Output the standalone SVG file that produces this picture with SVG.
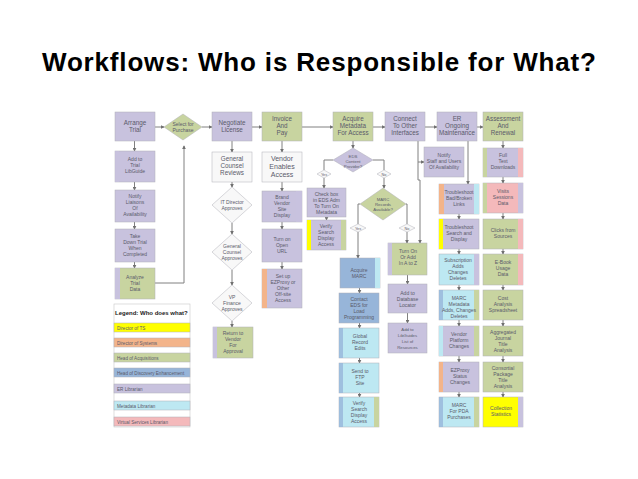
<svg xmlns="http://www.w3.org/2000/svg" width="638" height="479" viewBox="0 0 638 479">
<style>
text{font-family:"Liberation Sans",Arial,sans-serif;fill:#5a5a6a;text-anchor:middle;font-size:5px}
.h{font-size:6.3px}
.t{font-size:26px;font-weight:bold;fill:#000}
.b{stroke:#b0b0b8;stroke-width:0.5}
.pu{fill:#c8c2de}.gr{fill:#c8d4a0}.bl{fill:#97b5d9}.cy{fill:#bde8f2}.or{fill:#f3b48a}.ye{fill:#ffff00}.pk{fill:#f4b9bb}.wh{fill:#f8f8f8}
.c{fill:none;stroke:#808080;stroke-width:1}
.lg text{text-anchor:start;font-size:4.6px}
</style>
<defs><marker id="a" viewBox="0 0 6 6" refX="5" refY="3" markerWidth="4" markerHeight="4" orient="auto"><path d="M0,0L6,3L0,6z" fill="#707070"/></marker></defs>
<rect width="638" height="479" fill="#fff"/>
<text class="t" x="319" y="71" textLength="554">Workflows: Who is Responsible for What?</text>

<g id="connectors" marker-end="url(#a)">
<path class="c" d="M154 127H164"/><path class="c" d="M202 127H212"/><path class="c" d="M252 127H262"/><path class="c" d="M302 127H333"/><path class="c" d="M373 127H385"/><path class="c" d="M425 127H437"/><path class="c" d="M477 127H483"/>
<path class="c" d="M134.5 141V151"/><path class="c" d="M134.5 182V190"/><path class="c" d="M134.5 222V229"/><path class="c" d="M134.5 262V268"/>
<path class="c" d="M154 283H184V146"/>
<path class="c" d="M232 141V152"/><path class="c" d="M232 182V187"/><path class="c" d="M232 223V234"/><path class="c" d="M232 270V285"/><path class="c" d="M232 321V327"/>
<path class="c" d="M282 141V152"/><path class="c" d="M282 182V191"/><path class="c" d="M282 222V229"/><path class="c" d="M282 262V269"/>
<path class="c" d="M353 141V148"/>
<path class="c" d="M333 160H324V170" marker-end="none"/><path class="c" d="M324 178V188"/>
<path class="c" d="M373 160H384V170" marker-end="none"/><path class="c" d="M384 178V188"/>
<path class="c" d="M326.5 217V220"/>
<path class="c" d="M360 204H358V224" marker-end="none"/><path class="c" d="M358 232V258"/>
<path class="c" d="M406 204H407V224" marker-end="none"/><path class="c" d="M407 232V243"/>
<path class="c" d="M359.5 288V293"/><path class="c" d="M359.5 323V328"/><path class="c" d="M359.5 358V363"/><path class="c" d="M359.5 393V397"/>
<path class="c" d="M418 141V162H424"/><path class="c" d="M418 162V180H420V243"/>
<path class="c" d="M407.5 275V284"/><path class="c" d="M407.5 313V323"/>
<path class="c" d="M468 141V184"/>
<path class="c" d="M459 214V219"/><path class="c" d="M459 249V254"/><path class="c" d="M459 285V290"/><path class="c" d="M459 320V326"/><path class="c" d="M459 356V362"/><path class="c" d="M459 392V397"/>
<path class="c" d="M503 141V148"/><path class="c" d="M503 177V183"/><path class="c" d="M503 213V219"/><path class="c" d="M503 249V254"/><path class="c" d="M503 285V290"/><path class="c" d="M503 320V326"/><path class="c" d="M503 356V362"/><path class="c" d="M503 392V397"/>
</g>

<!-- headers -->
<g id="arrange"><rect class="pu b" x="115" y="112" width="40" height="29"/><text class="h" x="135" y="125">Arrange</text><text class="h" x="135" y="132">Trial</text></g>
<g id="select"><path class="gr b" d="M183 114L202 127L183 140L164 127z"/><text x="183" y="126">Select for</text><text x="183" y="132">Purchase</text></g>
<g id="negotiate"><rect class="pu b" x="212" y="112" width="40" height="29"/><text class="h" x="232" y="125">Negotiate</text><text class="h" x="232" y="132">License</text></g>
<g id="invoice"><rect class="gr b" x="262" y="112" width="40" height="29"/><text class="h" x="282" y="121">Invoice</text><text class="h" x="282" y="128">And</text><text class="h" x="282" y="135">Pay</text></g>
<g id="acquire"><rect class="gr b" x="333" y="112" width="40" height="29"/><text class="h" x="353" y="121">Acquire</text><text class="h" x="353" y="128">Metadata</text><text class="h" x="353" y="135">For Access</text></g>
<g id="connect"><rect class="pu b" x="385" y="112" width="40" height="29"/><text class="h" x="405" y="121">Connect</text><text class="h" x="405" y="128">To Other</text><text class="h" x="405" y="135">Interfaces</text></g>
<g id="er"><rect class="pu b" x="437" y="112" width="40" height="29"/><text class="h" x="457" y="121">ER</text><text class="h" x="457" y="128">Ongoing</text><text class="h" x="457" y="135">Maintenance</text></g>
<g id="assess"><rect class="gr b" x="483" y="112" width="40" height="29"/><text class="h" x="503" y="121">Assessment</text><text class="h" x="503" y="128">And</text><text class="h" x="503" y="135">Renewal</text></g>

<!-- col 1 -->
<g id="libguide"><rect class="pu b" x="115" y="151" width="40" height="31"/><rect class="pu" x="115" y="151" width="4" height="31" opacity=".7"/><text x="135" y="161">Add to</text><text x="135" y="167">Trial</text><text x="135" y="173">LibGuide</text></g>
<g id="notify1"><rect class="pu b" x="115" y="190" width="40" height="32"/><text x="135" y="198">Notify</text><text x="135" y="204">Liaisons</text><text x="135" y="210">Of</text><text x="135" y="216">Availability</text></g>
<g id="takedown"><rect class="pu b" x="115" y="229" width="40" height="33"/><text x="135" y="238">Take</text><text x="135" y="244">Down Trial</text><text x="135" y="250">When</text><text x="135" y="256">Completed</text></g>
<g id="analyze"><rect class="gr b" x="115" y="268" width="40" height="31"/><rect class="pu" x="115" y="268" width="5" height="31"/><text x="135" y="279">Analyze</text><text x="135" y="285">Trial</text><text x="135" y="291">Data</text></g>

<!-- legend -->
<g id="legend" class="lg">
<rect x="114" y="304" width="76" height="123" fill="#fff" stroke="#c8c8c8" stroke-width="0.6"/>
<text x="115" y="315" style="font-weight:bold;font-size:6px;fill:#222">Legend: Who does what?</text>
<rect class="ye b" x="114" y="323" width="76" height="9"/><text x="117" y="329.5">Director of TS</text>
<rect class="or b" x="114" y="338" width="76" height="9"/><text x="117" y="344.5">Director of Systems</text>
<rect class="gr b" x="114" y="353" width="76" height="9"/><text x="117" y="359.5">Head of Acquisitions</text>
<rect class="bl b" x="114" y="368" width="76" height="9"/><text x="117" y="374.5">Head of Discovery Enhancement</text>
<rect class="pu b" x="114" y="384" width="76" height="9"/><text x="117" y="390.5">ER Librarian</text>
<rect class="cy b" x="114" y="401" width="76" height="9"/><text x="117" y="407.5">Metadata Librarian</text>
<rect class="pk b" x="114" y="417" width="76" height="9"/><text x="117" y="423.5">Virtual Services Librarian</text>
</g>

<!-- negotiate column -->
<g id="gcreview"><rect class="wh b" x="212" y="152" width="40" height="30"/><text class="h" x="232" y="161">General</text><text class="h" x="232" y="168">Counsel</text><text class="h" x="232" y="175">Reviews</text></g>
<g id="itdir"><path class="wh b" d="M232 187L252 205L232 223L212 205z"/><text x="232" y="204">IT Director</text><text x="232" y="210">Approves</text></g>
<g id="gcapp"><path class="wh b" d="M232 234L252 252L232 270L212 252z"/><text x="232" y="248">General</text><text x="232" y="254">Counsel</text><text x="232" y="260">Approves</text></g>
<g id="vpfin"><path class="wh b" d="M232 285L252 303L232 321L212 303z"/><text x="232" y="299">VP</text><text x="232" y="305">Finance</text><text x="232" y="311">Approves</text></g>
<g id="return"><rect class="gr b" x="213" y="327" width="40" height="31"/><rect class="pu" x="213" y="327" width="4" height="31"/><text x="233" y="335">Return to</text><text x="233" y="341">Vendor</text><text x="233" y="347">For</text><text x="233" y="353">Approval</text></g>

<!-- invoice column -->
<g id="venable"><rect class="wh b" x="262" y="152" width="40" height="30"/><text class="h" x="282" y="161" style="font-size:7px">Vendor</text><text class="h" x="282" y="169" style="font-size:7px">Enables</text><text class="h" x="282" y="177" style="font-size:7px">Access</text></g>
<g id="brand"><rect class="pu b" x="262" y="191" width="40" height="31"/><rect class="pu" x="296" y="191" width="6" height="31" opacity=".8"/><text x="282" y="199">Brand</text><text x="282" y="205">Vendor</text><text x="282" y="211">Site</text><text x="282" y="217">Display</text></g>
<g id="openurl"><rect class="pu b" x="262" y="229" width="40" height="33"/><text x="282" y="241">Turn on</text><text x="282" y="247">Open</text><text x="282" y="253">URL</text></g>
<g id="ezproxy"><rect class="pu b" x="262" y="269" width="40" height="39"/><rect class="or" x="262" y="269" width="5" height="39"/><text x="283" y="278">Set up</text><text x="283" y="284">EZProxy or</text><text x="283" y="290">Other</text><text x="283" y="296">Off-site</text><text x="283" y="302">Access</text></g>

<!-- acquire metadata column -->
<g id="eds"><path class="pu b" d="M353 148L373 160L353 172L333 160z"/><text x="353" y="158" style="font-size:4.3px">EDS</text><text x="353" y="163" style="font-size:4.3px">Content</text><text x="353" y="168" style="font-size:4.3px">Provider?</text></g>
<g id="yes1"><path class="wh b" d="M324 170L331 174L324 178L317 174z"/><text x="324" y="175.5" style="font-size:3.8px">Yes</text></g>
<g id="no1"><path class="wh b" d="M384 170L391 174L384 178L377 174z"/><text x="384" y="175.5" style="font-size:3.8px">No</text></g>
<g id="checkbox"><rect class="pu b" x="307" y="188" width="39" height="29"/><text x="326.5" y="196">Check box</text><text x="326.5" y="202">in EDS Adm</text><text x="326.5" y="208">To Turn On</text><text x="326.5" y="214">Metadata</text></g>
<g id="verify1"><rect class="pu b" x="307" y="220" width="39" height="30"/><rect class="ye" x="307" y="220" width="4" height="30"/><rect class="gr" x="341" y="220" width="5" height="30"/><text x="326" y="228">Verify</text><text x="326" y="234">Search</text><text x="326" y="240">Display</text><text x="326" y="246">Access</text></g>
<g id="marcavail"><path class="gr b" d="M383 188L406 204L383 220L360 204z"/><text x="383" y="201" style="font-size:4.3px">MARC</text><text x="383" y="206" style="font-size:4.3px">Records</text><text x="383" y="211" style="font-size:4.3px">Available?</text></g>
<g id="yes2"><path class="wh b" d="M358 224L366 228L358 232L350 228z"/><text x="358" y="229.5" style="font-size:3.8px">Yes</text></g>
<g id="no2"><path class="wh b" d="M407 224L415 228L407 232L399 228z"/><text x="407" y="229.5" style="font-size:3.8px">No</text></g>
<g id="acqmarc"><rect class="bl b" x="340" y="258" width="40" height="30"/><rect class="cy" x="375" y="258" width="5" height="30"/><text x="359" y="272">Acquire</text><text x="359" y="278">MARC</text></g>
<g id="contact"><rect class="bl b" x="339" y="293" width="40" height="30"/><text x="359" y="301">Contact</text><text x="359" y="307">EDS for</text><text x="359" y="313">Load</text><text x="359" y="319">Programming</text></g>
<g id="global"><rect class="cy b" x="339" y="328" width="40" height="30"/><rect class="bl" x="339" y="328" width="4" height="30" opacity=".8"/><text x="360" y="338">Global</text><text x="360" y="344">Record</text><text x="360" y="350">Edits</text></g>
<g id="ftp"><rect class="cy b" x="339" y="363" width="40" height="30"/><rect class="bl" x="339" y="363" width="4" height="30" opacity=".8"/><text x="360" y="373">Send to</text><text x="360" y="379">FTP</text><text x="360" y="385">Site</text></g>
<g id="verify2"><rect class="cy b" x="339" y="397" width="40" height="30"/><rect class="bl" x="339" y="397" width="4" height="30" opacity=".8"/><rect class="gr" x="374" y="397" width="5" height="30"/><text x="359" y="405">Verify</text><text x="359" y="411">Search</text><text x="359" y="417">Display</text><text x="359" y="423">Access</text></g>

<!-- connect column -->
<g id="notify2"><rect class="pu b" x="424" y="147" width="40" height="30"/><text x="444" y="157">Notify</text><text x="444" y="163">Staff and Users</text><text x="444" y="169">Of Availability</text></g>
<g id="atoz"><rect class="gr b" x="388" y="243" width="39" height="32"/><rect class="pu" x="388" y="243" width="4" height="32"/><text x="408" y="253">Turn On</text><text x="408" y="259">Or Add</text><text x="408" y="265">In A to Z</text></g>
<g id="dbloc"><rect class="pu b" x="388" y="284" width="39" height="29"/><text x="407.5" y="295">Add to</text><text x="407.5" y="301">Database</text><text x="407.5" y="307">Locator</text></g>
<g id="unlist"><rect class="pu b" x="388" y="323" width="39" height="30"/><text x="407.5" y="331" style="font-size:4.3px">Add to</text><text x="407.5" y="337" style="font-size:4.3px">LibGuides</text><text x="407.5" y="343" style="font-size:4.3px">List of</text><text x="407.5" y="349" style="font-size:4.3px">Resources</text></g>

<!-- ER column -->
<g id="ts1"><rect class="pu b" x="439" y="184" width="40" height="30"/><rect class="or" x="439" y="184" width="5" height="30"/><rect class="cy" x="474" y="184" width="5" height="30"/><text x="459" y="194">Troubleshoot</text><text x="459" y="200">Bad/Broken</text><text x="459" y="206">Links</text></g>
<g id="ts2"><rect class="pu b" x="439" y="219" width="40" height="30"/><rect class="ye" x="439" y="219" width="4" height="30"/><text x="459" y="229">Troubleshoot</text><text x="459" y="235">Search and</text><text x="459" y="241">Display</text></g>
<g id="subs"><rect class="cy b" x="439" y="254" width="40" height="31"/><rect class="pu" x="474" y="254" width="5" height="31"/><text x="458" y="262">Subscription</text><text x="458" y="268">Adds</text><text x="458" y="274">Changes</text><text x="458" y="280">Deletes</text></g>
<g id="marcmeta"><rect class="cy b" x="439" y="290" width="40" height="30"/><rect class="bl" x="439" y="290" width="4" height="30" opacity=".8"/><rect class="gr" x="474" y="290" width="5" height="30"/><text x="459" y="300">MARC</text><text x="459" y="306">Metadata</text><text x="459" y="312">Adds, Changes</text><text x="459" y="318">Deletes</text></g>
<g id="vplat"><rect class="pu b" x="439" y="326" width="40" height="30"/><rect class="cy" x="439" y="326" width="4" height="30"/><rect class="gr" x="474" y="326" width="5" height="30"/><text x="459" y="336">Vendor</text><text x="459" y="342">Platform</text><text x="459" y="348">Changes</text></g>
<g id="ezstat"><rect class="pu b" x="439" y="362" width="40" height="30"/><rect class="or" x="439" y="362" width="4" height="30"/><text x="460" y="372">EZProxy</text><text x="460" y="378">Status</text><text x="460" y="384">Changes</text></g>
<g id="marcpda"><rect class="cy b" x="439" y="397" width="40" height="30"/><rect class="bl" x="439" y="397" width="4" height="30" opacity=".8"/><rect class="gr" x="474" y="397" width="5" height="30"/><text x="459" y="407">MARC</text><text x="459" y="413">For PDA</text><text x="459" y="419">Purchases</text></g>

<!-- assessment column -->
<g id="fulltext"><rect class="pu b" x="483" y="148" width="40" height="29"/><rect class="gr" x="483" y="148" width="4" height="29"/><rect class="pk" x="518" y="148" width="5" height="29"/><text x="503" y="157">Full</text><text x="503" y="163">Text</text><text x="503" y="169">Downloads</text></g>
<g id="visits"><rect class="pk b" x="483" y="183" width="40" height="30"/><rect class="gr" x="483" y="183" width="4" height="30"/><rect class="pu" x="518" y="183" width="5" height="30"/><text x="503" y="193">Visits</text><text x="503" y="199">Sessions</text><text x="503" y="205">Data</text></g>
<g id="clicks"><rect class="gr b" x="483" y="219" width="40" height="30"/><rect class="pk" x="518" y="219" width="5" height="30"/><text x="503" y="232">Clicks from</text><text x="503" y="238">Sources</text></g>
<g id="ebook"><rect class="gr b" x="483" y="254" width="40" height="31"/><rect class="pk" x="518" y="254" width="5" height="31"/><text x="503" y="264">E-Book</text><text x="503" y="270">Usage</text><text x="503" y="276">Data</text></g>
<g id="cost"><rect class="gr b" x="483" y="290" width="40" height="30"/><text x="503" y="300">Cost</text><text x="503" y="306">Analysis</text><text x="503" y="312">Spreadsheet</text></g>
<g id="aggr"><rect class="gr b" x="483" y="326" width="40" height="30"/><text x="503" y="334">Aggregated</text><text x="503" y="340">Journal</text><text x="503" y="346">Title</text><text x="503" y="352">Analysis</text></g>
<g id="consort"><rect class="gr b" x="483" y="362" width="40" height="30"/><text x="503" y="370">Consortial</text><text x="503" y="376">Package</text><text x="503" y="382">Title</text><text x="503" y="388">Analysis</text></g>
<g id="collstat"><rect class="ye b" x="483" y="397" width="40" height="30"/><rect class="pu" x="518" y="397" width="5" height="30"/><text x="501" y="410">Collection</text><text x="501" y="416">Statistics</text></g>
</svg>
